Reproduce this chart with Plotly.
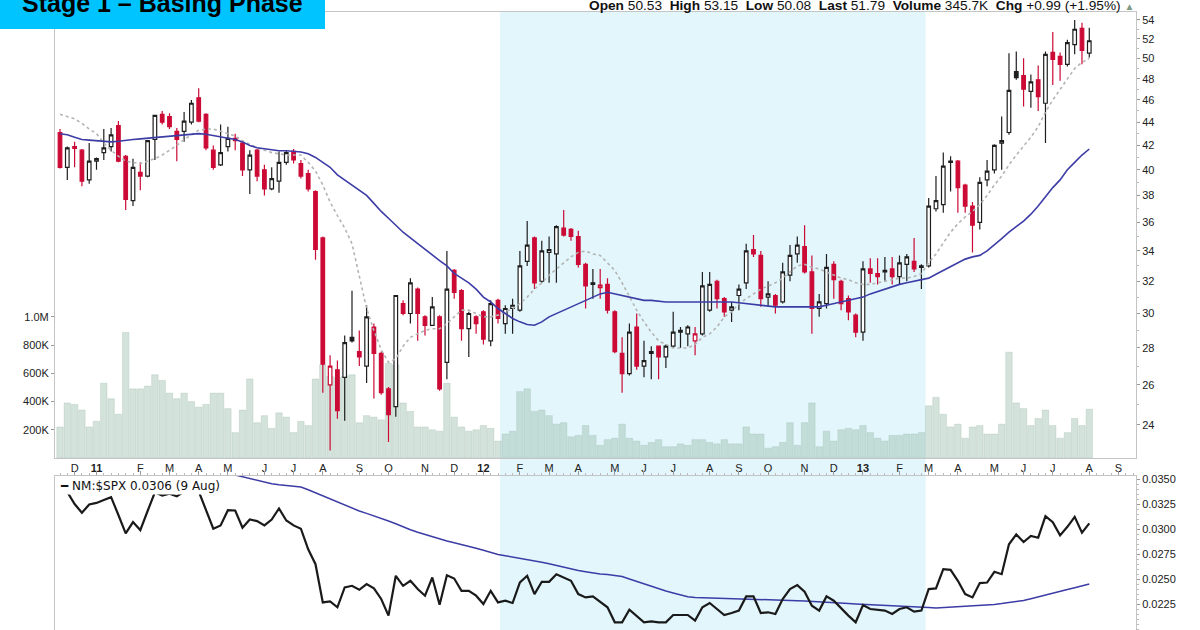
import math
import pandas as pd
import plotly.graph_objects as go

# ---------------- data (weekly bars) ----------------
START = "2010-11-22"

OPEN = [43.1, 40.2, 41.9, 41.6, 39.2, 40.7, 41.4, 41.9, 43.7, 41.1,
        37.6, 39.8, 39.5, 42.5, 44.7, 44.5, 43.2, 43.2, 44.0, 46.2,
        44.7, 41.6, 40.4, 41.9, 42.6, 42.2, 40.0, 41.6, 40.0, 38.5,
        39.1, 40.6, 41.5, 40.5, 39.7, 38.3, 34.9, 26.0, 26.8, 26.4,
        28.6, 27.8, 27.0, 29.2, 27.7, 25.8, 24.9, 30.6, 30.0, 31.5,
        29.8, 29.3, 29.8, 27.2, 32.7, 31.4, 29.1, 29.8, 30.1, 28.4,
        30.8, 29.4, 30.3, 30.2, 33.3, 34.9, 32.0, 33.9, 33.8, 35.6,
        35.5, 35.0, 33.1, 31.9, 31.6, 31.8, 30.1, 27.7, 26.6, 29.2,
        27.0, 27.8, 28.1, 27.5, 28.1, 28.9, 28.8, 28.4, 28.8, 30.2,
        32.0, 30.9, 30.2, 31.1, 31.9, 34.1, 33.7, 31.0, 31.1, 30.7,
        32.4, 33.8, 34.3, 32.6, 30.3, 30.6, 33.1, 32.0, 30.9, 29.9,
        28.9, 32.8, 32.5, 32.7, 32.8, 32.3, 33.1, 33.3, 32.9, 33.0,
        37.0, 37.3, 40.6, 40.7, 38.8, 37.2, 36.0, 39.2, 40.0, 42.2,
        43.1, 48.7, 48.3, 46.8, 47.9, 45.7, 50.6, 50.2, 49.4, 51.4,
        53.1, 50.53]
HIGH = [43.4, 41.9, 42.3, 41.7, 42.2, 41.0, 43.4, 43.5, 44.1, 41.2,
        40.9, 40.6, 42.4, 44.6, 45.0, 44.8, 43.5, 44.9, 46.0, 47.1,
        44.8, 42.0, 43.8, 43.6, 43.0, 42.3, 41.6, 41.7, 40.4, 40.2,
        41.5, 41.6, 41.7, 40.8, 40.0, 38.4, 35.0, 27.6, 27.3, 28.7,
        31.4, 29.0, 30.5, 29.4, 27.8, 25.9, 31.1, 30.8, 32.2, 31.6,
        29.9, 31.0, 29.9, 34.0, 32.8, 31.5, 30.1, 29.9, 30.2, 30.8,
        30.9, 30.5, 30.9, 34.0, 36.1, 35.0, 34.7, 35.0, 35.8, 36.9,
        35.6, 35.4, 33.2, 32.8, 32.8, 32.2, 30.2, 28.6, 29.4, 30.0,
        28.4, 28.1, 28.1, 28.2, 30.1, 29.2, 29.3, 29.2, 32.6, 32.6,
        32.1, 31.0, 30.7, 31.8, 34.5, 35.1, 34.0, 32.0, 31.2, 33.2,
        34.4, 35.0, 35.8, 33.7, 31.2, 33.8, 33.3, 32.1, 31.1, 30.0,
        33.3, 33.5, 33.5, 33.6, 33.6, 33.7, 33.8, 34.9, 33.1, 37.8,
        39.5, 41.4, 41.1, 40.8, 38.9, 37.5, 39.4, 40.8, 42.1, 44.5,
        50.5, 50.7, 50.0, 48.4, 49.3, 50.7, 52.7, 50.6, 51.9, 54.0,
        53.7, 53.15]
LOW = [40.1, 39.2, 40.2, 38.7, 38.9, 40.0, 40.8, 41.5, 40.6, 36.9,
       37.2, 38.4, 39.4, 40.8, 43.8, 43.4, 40.7, 42.3, 43.8, 44.0,
       41.6, 40.0, 40.3, 41.5, 41.6, 39.5, 38.1, 39.1, 38.0, 38.4,
       38.2, 40.4, 40.5, 39.3, 38.3, 33.4, 25.6, 22.8, 24.3, 24.2,
       28.3, 27.0, 26.1, 25.3, 25.5, 23.2, 24.4, 29.9, 29.4, 28.4,
       28.7, 29.3, 25.7, 26.3, 30.9, 28.4, 27.5, 28.8, 28.2, 28.1,
       29.4, 28.8, 28.8, 30.1, 33.0, 31.5, 31.9, 31.9, 31.9, 35.0,
       34.7, 32.9, 30.3, 30.9, 30.9, 30.0, 27.7, 25.6, 26.5, 26.8,
       26.4, 26.3, 26.3, 26.9, 28.0, 28.0, 28.1, 27.6, 28.7, 30.1,
       30.3, 29.8, 29.5, 30.2, 31.5, 33.6, 30.4, 30.4, 30.0, 30.6,
       32.0, 33.2, 32.5, 28.8, 29.8, 30.3, 30.9, 30.2, 29.6, 28.6,
       28.4, 31.9, 31.8, 32.0, 31.8, 31.8, 32.0, 32.6, 31.5, 32.9,
       36.8, 36.7, 38.3, 36.7, 36.7, 33.9, 35.5, 38.7, 39.7, 40.0,
       42.9, 47.9, 45.4, 45.3, 45.0, 42.2, 47.4, 47.8, 49.2, 50.4,
       49.4, 50.08]
CLOSE = [40.2, 41.8, 41.75, 39.1, 40.7, 40.9, 41.8, 42.9, 40.7, 37.7,
         40.2, 39.5, 42.4, 44.6, 44.0, 43.6, 42.5, 44.1, 45.7, 44.1,
         41.8, 40.2, 41.4, 42.6, 42.4, 40.0, 41.2, 39.5, 38.5, 39.3,
         40.6, 41.4, 40.8, 39.5, 38.5, 34.1, 27.1, 27.0, 24.7, 28.3,
         28.4, 27.5, 29.8, 27.7, 25.6, 24.5, 31.1, 30.0, 31.9, 30.0,
         29.3, 30.4, 25.8, 31.5, 31.3, 29.1, 30.0, 29.4, 28.5, 30.6,
         29.7, 30.3, 30.5, 33.0, 34.4, 31.9, 34.0, 34.1, 35.7, 35.1,
         35.0, 33.1, 31.7, 31.8, 31.75, 30.2, 27.8, 26.6, 28.9, 27.0,
         27.3, 27.7, 27.5, 28.1, 28.9, 29.0, 29.2, 28.8, 31.7, 31.8,
         30.9, 30.1, 30.4, 31.5, 34.0, 33.8, 30.9, 31.2, 30.5, 32.6,
         33.7, 34.4, 32.6, 30.3, 30.7, 32.9, 32.1, 30.6, 30.1, 28.9,
         32.8, 32.5, 32.3, 32.6, 32.3, 33.2, 33.6, 32.8, 33.0, 37.2,
         37.6, 40.3, 40.7, 38.6, 37.2, 35.8, 39.0, 39.9, 42.0, 42.4,
         46.9, 48.1, 47.0, 47.7, 46.3, 50.4, 49.9, 49.4, 51.6, 53.0,
         50.8, 51.79]
VOLUME_K = [220, 390, 380, 340, 220, 260, 530, 420, 310, 890,
            490, 490, 510, 590, 550, 460, 420, 460, 400, 360,
            380, 460, 460, 350, 180, 340, 560, 250, 300, 210,
            320, 290, 180, 260, 230, 560, 660, 580, 570, 580,
            590, 250, 300, 290, 270, 670, 660, 390, 330, 220,
            220, 200, 190, 530, 290, 220, 190, 200, 230, 210,
            120, 170, 190, 470, 490, 330, 340, 300, 240, 250,
            150, 160, 230, 160, 90, 130, 140, 240, 140, 120,
            90, 110, 130, 80, 80, 100, 90, 130, 130, 110,
            100, 130, 100, 100, 220, 170, 170, 70, 80, 110,
            250, 90, 250, 390, 80, 190, 120, 200, 210, 200,
            230, 180, 140, 120, 160, 160, 170, 170, 180, 370,
            430, 310, 220, 240, 140, 220, 230, 170, 170, 240,
            750, 390, 350, 230, 280, 340, 230, 140, 180, 280,
            230, 345.7]
MA30 = [43.0, 42.9, 42.7, 42.5, 42.45, 42.4, 42.35, 42.3, 42.35, 42.45,
        42.5, 42.55, 42.6, 42.65, 42.7, 42.75, 42.8, 42.85, 42.9, 43.0,
        42.95, 42.85, 42.75, 42.6, 42.5, 42.3, 42.0, 41.8, 41.7, 41.6,
        41.55, 41.55, 41.5, 41.45, 41.3, 41.0, 40.6, 40.2, 39.6, 39.2,
        38.8, 38.4, 38.0, 37.4, 36.8, 36.3, 35.8, 35.3, 34.9, 34.5,
        34.1, 33.7, 33.35, 33.0, 32.5, 32.2, 31.9, 31.5, 31.0, 30.7,
        30.3, 30.0, 29.7, 29.5, 29.35, 29.3, 29.5, 29.8, 30.0, 30.2,
        30.4, 30.6, 30.8, 31.0, 31.2, 31.3, 31.2, 31.1, 31.0, 30.9,
        30.8, 30.8, 30.75, 30.7, 30.7, 30.7, 30.7, 30.7, 30.7, 30.7,
        30.7, 30.7, 30.7, 30.65, 30.6, 30.55, 30.5, 30.45, 30.4, 30.4,
        30.4, 30.4, 30.4, 30.4, 30.4, 30.5, 30.6, 30.7, 30.8, 30.9,
        31.0, 31.2, 31.35, 31.5, 31.65, 31.8, 31.9, 32.0, 32.1, 32.2,
        32.45, 32.7, 32.95, 33.2, 33.45, 33.6, 33.7, 34.0, 34.4, 34.85,
        35.3, 35.7, 36.1, 36.6, 37.2, 37.9, 38.6, 39.2, 40.0, 40.6,
        41.2, 41.7]
MA10 = [44.7, 44.5, 44.3, 43.9, 43.4, 43.0, 42.2, 41.6, 41.1, 40.7,
        40.6, 40.5, 40.7, 40.9, 41.2, 41.6, 42.0, 42.5, 42.9, 43.3,
        43.4, 43.4, 43.2, 43.0, 42.8, 42.4, 42.1, 41.8, 41.6, 41.4,
        41.3, 41.2, 41.2, 41.2, 40.6, 39.9, 38.8, 37.5, 36.5, 35.6,
        34.5, 32.4, 30.3, 29.0, 27.9, 27.2, 27.4, 28.1, 28.6, 28.8,
        29.0, 29.1, 29.1, 29.4, 29.8, 30.2, 30.2, 30.0, 29.8, 29.8,
        29.9, 30.1, 30.3, 30.6, 31.0, 31.5, 31.9, 32.4, 32.8, 33.2,
        33.6, 33.9, 34.0, 33.8, 33.7, 33.2, 32.7, 31.9, 31.0, 30.2,
        29.5, 28.9, 28.4, 28.2, 28.0, 28.0, 28.0, 28.2, 28.6, 28.8,
        29.2, 29.8, 30.1, 30.6, 30.9, 31.2, 31.5, 31.7, 31.9, 32.2,
        32.6, 33.0, 33.1, 32.9, 32.8, 32.6, 32.4, 32.2, 32.1, 31.9,
        31.8, 31.8, 31.9, 32.0, 32.1, 32.2, 32.2, 32.3, 32.5, 33.2,
        33.8, 34.5, 35.3, 35.9, 36.4, 36.8, 37.3, 38.0, 38.8, 39.5,
        40.4, 41.2, 41.9, 42.7, 43.6, 44.9, 46.0, 47.0, 48.0, 49.0,
        49.6, 50.0]
RATIO = [0.0336, 0.0337, 0.0325, 0.03162, 0.03245, 0.03261, 0.0329, 0.03318, 0.0314, 0.02956,
         0.03069, 0.02989, 0.0318, 0.03367, 0.03334, 0.03354, 0.03328, 0.03371, 0.0342, 0.03377,
         0.0319, 0.03003, 0.03036, 0.03188, 0.03185, 0.03013, 0.03095, 0.03079, 0.03036, 0.03095,
         0.03205, 0.03085, 0.03036, 0.03003, 0.02797, 0.02648, 0.02266, 0.02276, 0.02217, 0.02416,
         0.02432, 0.02392, 0.02449, 0.02406, 0.02300, 0.02134, 0.02532, 0.02432, 0.02482, 0.02399,
         0.02333, 0.02515, 0.02243, 0.02538, 0.02505, 0.02382, 0.02382, 0.02333, 0.02250, 0.02382,
         0.02266, 0.02283, 0.02260, 0.02465, 0.02532, 0.02349, 0.02472, 0.02472, 0.02548, 0.02515,
         0.02482, 0.02349, 0.02316, 0.02326, 0.02270, 0.02217, 0.02067, 0.02067, 0.02193, 0.02134,
         0.02067, 0.02077, 0.02067, 0.02067, 0.02140, 0.02140, 0.02140, 0.02084, 0.02217, 0.02260,
         0.02200, 0.02140, 0.02160, 0.02184, 0.02326, 0.02326, 0.02160, 0.02167, 0.02150, 0.02300,
         0.02399, 0.02439, 0.02373, 0.02233, 0.02184, 0.02326, 0.02283, 0.02207, 0.02134, 0.02067,
         0.02240, 0.02200, 0.02190, 0.02184, 0.02150, 0.02200, 0.02217, 0.02174, 0.02184, 0.02399,
         0.02406, 0.02598, 0.02591, 0.02482, 0.02349, 0.02316, 0.02459, 0.02465, 0.02572, 0.02548,
         0.02847, 0.02946, 0.02870, 0.02930, 0.02913, 0.03129, 0.03069, 0.02936, 0.03022, 0.03122,
         0.02963, 0.03056]
RATIO_MA = [None] * 24 + [
    0.03540, 0.03522, 0.03503, 0.03485, 0.03467, 0.03452,
    0.03442, 0.03436, 0.03430, 0.03420, 0.03392, 0.03361, 0.03335, 0.03307, 0.03276, 0.03245,
    0.03212, 0.03180, 0.03156, 0.03132, 0.03107, 0.03080, 0.03052, 0.03021, 0.02993, 0.02968,
    0.02945, 0.02921, 0.02897, 0.02880, 0.02863, 0.02846, 0.02829, 0.02808, 0.02787, 0.02766,
    0.02746, 0.02733, 0.02721, 0.02710, 0.02699, 0.02684, 0.02668, 0.02652, 0.02635, 0.02616,
    0.02598, 0.02584, 0.02572, 0.02560, 0.02550, 0.02546, 0.02538, 0.02525, 0.02500, 0.02475,
    0.02449, 0.02424, 0.02400, 0.02380, 0.02360, 0.02342, 0.02323, 0.02315, 0.02313, 0.02312,
    0.02311, 0.02310, 0.02307, 0.02305, 0.02303, 0.02301, 0.02299, 0.02296, 0.02293, 0.02290,
    0.02286, 0.02283, 0.02279, 0.02276, 0.02272, 0.02268, 0.02263, 0.02259, 0.02254, 0.02250,
    0.02247, 0.02244, 0.02241, 0.02238, 0.02235, 0.02232, 0.02230, 0.02229, 0.02226, 0.02216,
    0.02210, 0.02214, 0.02218, 0.02222, 0.02225, 0.02227, 0.02232, 0.02239, 0.02246, 0.02254,
    0.02264, 0.02275, 0.02285, 0.02303, 0.02320, 0.02338, 0.02356, 0.02375, 0.02394, 0.02413,
    0.02432, 0.02449]

TICK_DATES = ["2010-12-06", "2010-12-27", "2011-02-07", "2011-03-07", "2011-04-04", "2011-05-02",
              "2011-06-06", "2011-07-04", "2011-08-01", "2011-09-05", "2011-10-03", "2011-11-07",
              "2011-12-05", "2012-01-02", "2012-02-06", "2012-03-05", "2012-04-02", "2012-05-07",
              "2012-06-04", "2012-07-02", "2012-08-06", "2012-09-03", "2012-10-01", "2012-11-05",
              "2012-12-03", "2012-12-31", "2013-02-04", "2013-03-04", "2013-04-01", "2013-05-06",
              "2013-06-03", "2013-07-01", "2013-08-05", "2013-09-02"]
TICK_TEXT = ["D", "<b>11</b>", "F", "M", "A", "M", "J", "J", "A", "S", "O", "N", "D", "<b>12</b>",
             "F", "M", "A", "M", "J", "J", "A", "S", "O", "N", "D", "<b>13</b>",
             "F", "M", "A", "M", "J", "J", "A", "S"]
PRICE_TICKS = [24, 26, 28, 30, 32, 34, 36, 38, 40, 42, 44, 46, 48, 50, 52, 54]
VOL_TICKS = [200000, 400000, 600000, 800000, 1000000]
VOL_TEXT = ["200K", "400K", "600K", "800K", "1.0M"]
RATIO_TICKS = [0.0225, 0.0250, 0.0275, 0.0300, 0.0325, 0.0350]
SHADE_START, SHADE_END = "2012-01-18", "2013-03-01"
TITLE = "Stage 1 – Basing Phase"
SYMBOL = "NM:$SPX"
LAST_DATE_LABEL = "9 Aug"

# ---------------- figure ----------------
W, H = 1200, 630
ML, MR, MT, MB = 55, 64, 12, 0
PW, PH = W - ML - MR, H - MT - MB
def px_x(p):
    return (p - ML) / PW
def px_y(p):
    return (H - MB - p) / PH

dates = pd.date_range(START, periods=len(CLOSE), freq="7D")
RED = "#CC0A36"
BLK = "#1e1e1e"
FRAME = "#c4c4c4"
BLUE = "#3c3ca6"
FONT = "Liberation Sans, Arial, sans-serif"

fig = go.Figure()

# volume (base axis, drawn underneath)
fig.add_trace(go.Bar(x=dates, y=[v * 1000 for v in VOLUME_K], xaxis="x", yaxis="y",
                     width=6.2 * 86400000, marker=dict(color="rgba(150,185,168,0.42)",
                     line=dict(width=0.6, color="rgba(150,180,165,0.45)")),
                     hoverinfo="skip"))

# candle groups by StockCharts colouring rule
groups = {(True, True): ([], "white", BLK), (True, False): ([], BLK, BLK),
          (False, True): ([], "white", RED), (False, False): ([], RED, RED)}
for i in range(len(CLOSE)):
    prev = CLOSE[i - 1] if i > 0 else OPEN[i]
    up = CLOSE[i] >= prev
    hollow = CLOSE[i] > OPEN[i]
    groups[(up, hollow)][0].append(i)
for key, (idx, fill, col) in groups.items():
    if not idx:
        continue
    fig.add_trace(go.Candlestick(
        x=[dates[i] for i in idx], open=[OPEN[i] for i in idx], high=[HIGH[i] for i in idx],
        low=[LOW[i] for i in idx], close=[CLOSE[i] for i in idx], xaxis="x", yaxis="y2",
        increasing=dict(line=dict(color=col, width=1.2), fillcolor=fill),
        decreasing=dict(line=dict(color=col, width=1.2), fillcolor=fill),
        whiskerwidth=0, hoverinfo="skip"))

fig.add_trace(go.Scatter(x=dates, y=MA10, xaxis="x", yaxis="y2", mode="lines",
                         line=dict(color="#b4b4b4", width=1.6, dash="dot"), hoverinfo="skip"))
fig.add_trace(go.Scatter(x=dates, y=MA30, xaxis="x", yaxis="y2", mode="lines",
                         line=dict(color=BLUE, width=1.6), hoverinfo="skip"))

# relative strength panel
fig.add_trace(go.Scatter(x=dates, y=RATIO_MA, xaxis="x2", yaxis="y3", mode="lines",
                         line=dict(color=BLUE, width=1.5), hoverinfo="skip"))
fig.add_trace(go.Scatter(x=dates, y=RATIO, xaxis="x2", yaxis="y3", mode="lines",
                         line=dict(color="#1a1a1a", width=2.2), hoverinfo="skip"))

day = 86400000
x0 = dates[0] - pd.Timedelta(days=4.8)
x1 = dates[0] + pd.Timedelta(days=1031.8)
top_dom = [px_y(458), 1.0]
bot_dom = [0.0, px_y(476)]

fig.update_layout(
    width=W, height=H, showlegend=False,
    margin=dict(l=ML, r=MR, t=MT, b=MB, autoexpand=False),
    paper_bgcolor="white", plot_bgcolor="rgba(0,0,0,0)",
    font=dict(family=FONT, size=11, color="#222"),
    xaxis=dict(type="date", range=[x0, x1], domain=[0, 1], anchor="y",
               tickmode="array", tickvals=TICK_DATES, ticktext=TICK_TEXT, ticks="",
               tickfont=dict(size=11, color="#222"), showline=True, linecolor=FRAME,
               mirror=True, showgrid=False, zeroline=False,
               rangeslider=dict(visible=False)),
    yaxis=dict(domain=top_dom, anchor="x", side="left", range=[0, 3.16e6],
               tickmode="array", tickvals=VOL_TICKS, ticktext=VOL_TEXT,
               ticks="outside", ticklen=3, tickcolor="#999",
               showline=True, linecolor=FRAME, showgrid=False, zeroline=False,
               tickfont=dict(size=11, color="#222")),
    yaxis2=dict(overlaying="y", anchor="x", side="right", type="log",
                range=[math.log10(22.463), math.log10(54.86)],
                tickmode="array", tickvals=PRICE_TICKS, ticktext=[str(t) for t in PRICE_TICKS],
                ticks="outside", ticklen=3, tickcolor="#999",
                minor=dict(tickmode="array", tickvals=[t + 1 for t in PRICE_TICKS[:-1]],
                           ticks="outside", ticklen=2, tickcolor="#bbb"),
                showline=True, linecolor=FRAME, showgrid=False, zeroline=False,
                tickfont=dict(size=11, color="#222")),
    xaxis2=dict(type="date", range=[x0, x1], domain=[0, 1], anchor="y3", side="top",
                tickmode="array", tickvals=TICK_DATES, showticklabels=False,
                ticks="outside", ticklen=4, tickcolor="#999",
                minor=dict(ticks="outside", ticklen=2, dtick=7 * day, tick0=START,
                           tickcolor="#bbb"),
                showline=True, linecolor=FRAME, mirror=True, showgrid=False, zeroline=False),
    yaxis3=dict(domain=bot_dom, anchor="x2", side="right", range=[0.0199, 0.0353],
                tickmode="array", tickvals=RATIO_TICKS,
                ticktext=["%.4f" % t for t in RATIO_TICKS],
                ticks="outside", ticklen=3, tickcolor="#999",
                minor=dict(dtick=0.0005, ticks="outside", ticklen=2, tickcolor="#bbb"),
                showline=True, linecolor=FRAME, mirror=True, showgrid=False, zeroline=False,
                tickfont=dict(size=11, color="#222")),
    shapes=[
        dict(type="rect", xref="x", yref="paper", x0=SHADE_START, x1=SHADE_END, y0=0, y1=1,
             fillcolor="#E2F6FC", line=dict(width=0), layer="below"),
        dict(type="rect", xref="paper", yref="paper", x0=px_x(0), x1=px_x(325),
             y0=px_y(29), y1=px_y(0), fillcolor="#00C4FF", line=dict(width=0), layer="above"),
    ],
)

chg = CLOSE[-1] - CLOSE[-2]
pct = chg / CLOSE[-2] * 100
header = ("<b>Open</b> %.2f&nbsp;&nbsp;<b>High</b> %.2f&nbsp;&nbsp;<b>Low</b> %.2f&nbsp;&nbsp;"
          "<b>Last</b> %.2f&nbsp;&nbsp;<b>Volume</b> %.1fK&nbsp;&nbsp;<b>Chg</b> %+.2f (%+.2f%%)"
          " <span style='color:#7d9a86;font-size:10px'>▲</span>"
          % (OPEN[-1], HIGH[-1], LOW[-1], CLOSE[-1], VOLUME_K[-1], chg, pct))

fig.add_annotation(text="<b>%s</b>" % TITLE, xref="paper", yref="paper",
                   x=px_x(162), y=px_y(3.3), xanchor="center", yanchor="middle",
                   showarrow=False, font=dict(family=FONT, size=25, color="#000"))
fig.add_annotation(text=header, xref="paper", yref="paper", x=px_x(1136), y=px_y(5),
                   xanchor="right", yanchor="middle", showarrow=False,
                   font=dict(family=FONT, size=13.7, color="#111"))
fig.add_annotation(text="<b>━</b> %s %.4f (%s)" % (SYMBOL, RATIO[-1], LAST_DATE_LABEL),
                   xref="paper", yref="paper", x=px_x(58), y=px_y(486),
                   xanchor="left", yanchor="middle", showarrow=False, bgcolor="white",
                   borderpad=1, font=dict(family="DejaVu Sans, sans-serif", size=12, color="#111"))

fig.write_html("out.html", config={"displayModeBar": False, "staticPlot": True},
               post_script="document.body.style.margin='0';document.body.style.padding='0';"
                           "document.body.style.overflow='hidden';")
